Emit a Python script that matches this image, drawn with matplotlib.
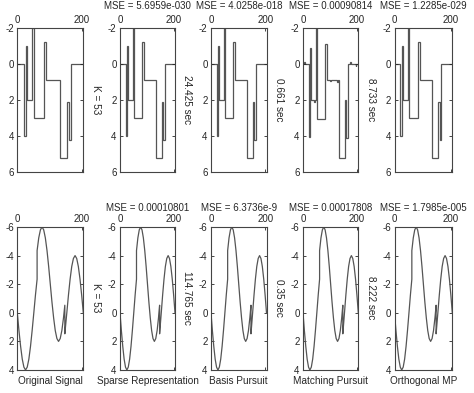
#!/usr/bin/env python3
"""
Sparse reconstruction comparison: HeaviSine and Blocks test signals
(picture is vertically flipped, as in the source scan)
"""

import matplotlib
matplotlib.use("Agg")
import matplotlib.pyplot as plt

# HeaviSine samples (sample position, value)
heavi_x = [0, 5.1, 10.3, 15.4, 20.5, 25.6, 30.8, 35.9, 41.0, 46.1, 51.3, 56.4,
           61.5, 61.5, 66.6, 71.8, 76.9, 82.0, 87.1, 92.3, 97.4, 102.5, 107.6,
           112.8, 117.9, 123.0, 128.1, 133.3, 138.4, 143.5, 147.6, 147.6, 148.6,
           153.8, 158.9, 164.0, 169.1, 174.3, 179.4, 184.5, 189.6, 194.8, 199.9, 205.0]
heavi_y = [0, 1.24, 2.35, 3.24, 3.80, 4.00, 3.80, 3.24, 2.35, 1.24, 0, -1.24,
           -2.35, -4.35, -5.24, -5.80, -6.00, -5.80, -5.24, -4.35, -3.24, -2.00, -0.76,
           0.35, 1.24, 1.80, 2.00, 1.80, 1.24, 0.35, -0.53, 1.47, 1.24,
           0, -1.24, -2.35, -3.24, -3.80, -4.00, -3.80, -3.24, -2.35, -1.24, 0]

# Blocks signal: step edges and levels
blocks_edges = [0, 20.5, 26.7, 30.8, 47.2, 51.3, 82.0, 90.2, 133.3, 155.8, 159.9, 166.1, 205]
blocks_levels = [0, 4, -1, 2, -2, 3, -1.2, 0.9, 5.2, 2.1, 4.2, 0]

# Matching pursuit result on Blocks has small ripples
mp_edges = [0, 5, 8, 20.5, 26.7, 30.8, 40, 43, 47.2, 51.3, 82.0, 90.2, 100, 104,
            125, 129, 133.3, 155.8, 159.9, 166.1, 175, 178, 195, 198, 205]
mp_levels = [0, -0.12, 0, 4.05, -0.9, 2, 2.1, 2, -2, 3.05, -1.1, 0.9, 0.96, 0.9,
             0.98, 0.9, 5.2, 2.0, 4.1, 0, -0.12, 0, 0.1, 0]

titles = ["Original Signal", "Sparse Representation", "Basis Pursuit",
          "Matching Pursuit", "Orthogonal MP"]
side_top = ["", "K = 53", "24.425 sec", "0.661 sec", "8.733 sec"]
side_bot = ["", "K = 53", "114.765 sec", "0.35 sec", "8.222 sec"]
mse_top = ["", "MSE = 5.6959e-030", "MSE = 4.0258e-018", "MSE = 0.00090814",
           "MSE = 1.2285e-029"]
mse_bot = ["", "MSE = 0.00010801", "MSE = 6.3736e-9", "MSE = 0.00017808",
           "MSE = 1.7985e-005"]

W, H = 474, 393
cols = [(17.3, 83.3), (120, 175), (211, 266.5), (303, 358.3), (394.5, 452.3)]
rows = [(28, 172), (227, 370)]
line_col = "#555555"
txt_col = "#262626"
plt.rcParams["font.family"] = ["Liberation Sans", "DejaVu Sans"]
plt.rcParams["axes.unicode_minus"] = False


def make_ax(fig, col, row):
    x0, x1 = cols[col]
    y0, y1 = rows[row]
    ax = fig.add_axes([x0 / W, 1 - y1 / H, (x1 - x0) / W, (y1 - y0) / H])
    ax.set_xlim(0, 205)
    ax.set_xticks([0, 200])
    ax.xaxis.tick_top()
    ax.tick_params(direction="in", length=2.5, width=0.6, labelsize=7,
                   top=True, bottom=True, left=True, right=True,
                   labeltop=True, labelbottom=False, pad=2.5, colors=txt_col)
    for s in ax.spines.values():
        s.set_color("#444444")
        s.set_linewidth(0.8)
    return ax


fig = plt.figure(figsize=(W / 100, H / 100), dpi=100)

for i in range(5):
    # top row: Blocks
    ax = make_ax(fig, i, 0)
    if i == 3:
        ax.stairs(mp_levels, mp_edges, baseline=None, color=line_col, lw=0.9)
    else:
        ax.stairs(blocks_levels, blocks_edges, baseline=None, color=line_col, lw=0.9)
    ax.set_ylim(6, -2)
    ax.set_yticks([-2, 0, 2, 4, 6])

    # bottom row: HeaviSine
    ax = make_ax(fig, i, 1)
    ax.plot(heavi_x, heavi_y, color=line_col, lw=0.9)
    ax.set_ylim(4, -6)
    ax.set_yticks([-6, -4, -2, 0, 2, 4])

    cx = (cols[i][0] + cols[i][1]) / 2
    fig.text(cx / W, 1 - 381 / H, titles[i], ha="center", va="center",
             fontsize=7.2, color=txt_col)
    if mse_top[i]:
        fig.text(cx / W, 1 - 6 / H, mse_top[i], ha="center", va="center",
                 fontsize=7, color=txt_col)
        fig.text(cx / W, 1 - 208 / H, mse_bot[i], ha="center", va="center",
                 fontsize=7, color=txt_col)
    if side_top[i]:
        sx = cols[i][0] - 24
        fig.text(sx / W, 1 - 100 / H, side_top[i], ha="center", va="center",
                 rotation=-90, fontsize=7.2, color=txt_col)
        fig.text(sx / W, 1 - 298 / H, side_bot[i], ha="center", va="center",
                 rotation=-90, fontsize=7.2, color=txt_col)

fig.savefig("out.png", dpi=100)
plt.close(fig)
